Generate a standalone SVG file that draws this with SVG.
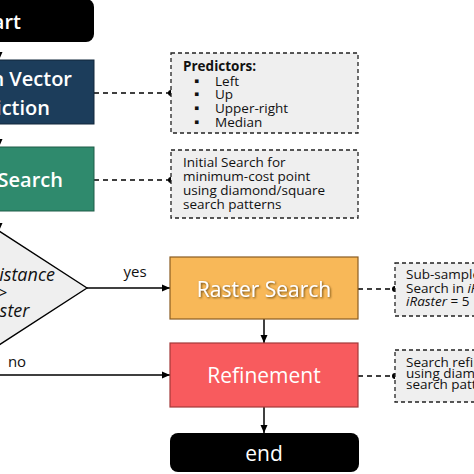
<svg xmlns="http://www.w3.org/2000/svg" width="474" height="474" viewBox="0 0 474 474">
<defs>
<marker id="arr" markerWidth="8" markerHeight="8" refX="8" refY="4" orient="auto" markerUnits="userSpaceOnUse">
<path d="M0,0.5 L8,4 L0,7.5 Z" fill="#000"/>
</marker>
<filter id="sh" x="-10%" y="-30%" width="120%" height="160%">
<feDropShadow dx="1" dy="1" stdDeviation="0.8" flood-color="#5a3a10" flood-opacity="0.9"/>
</filter>
</defs>
<style>
.lbl{font-family:"Open Sans",Lato,"Liberation Sans",sans-serif;fill:#fff;font-size:20px;font-weight:600}
.big{font-family:"Open Sans",Lato,"Liberation Sans",sans-serif;fill:#fff;font-size:21px;text-anchor:middle}
.note{font-family:"Open Sans",Lato,"Liberation Sans",sans-serif;fill:#111;font-size:13.5px}
.dec{font-family:"Open Sans",Lato,"Liberation Sans",sans-serif;fill:#111;font-size:18px;font-style:italic;text-anchor:middle}
.edge{font-family:"Open Sans",Lato,"Liberation Sans",sans-serif;fill:#111;font-size:15px;text-anchor:middle}
.call{fill:#efefef;stroke:#222;stroke-width:1.3;stroke-dasharray:4 3}
.flow{fill:none;stroke:#000;stroke-width:1.5;marker-end:url(#arr)}
.dash{fill:none;stroke:#000;stroke-width:1.5;stroke-dasharray:5 4}
</style>

<g id="connectors">
<path class="flow" d="M-1,42 V60"/>
<path class="flow" d="M-1,124 V147"/>
<path class="flow" d="M-1,211 V231"/>
<path class="flow" d="M87,288 H170"/>
<path class="flow" d="M-1,345 V375 H170"/>
<path class="flow" d="M264,319 V343"/>
<path class="flow" d="M264,407 V433"/>
<path class="dash" d="M94,93 H171"/>
<path class="dash" d="M94,180 H171"/>
<path class="dash" d="M358,289 H395"/>
<path class="dash" d="M358,376 H395"/>
<circle cx="171" cy="93" r="3" fill="#000"/>
<circle cx="171" cy="180" r="3" fill="#000"/>
<circle cx="395" cy="289" r="3" fill="#000"/>
<circle cx="395" cy="376" r="3" fill="#000"/>
<text class="edge" x="135" y="277">yes</text>
<text class="edge" x="17" y="367">no</text>
</g>

<g id="start">
<rect x="-100" y="-1" width="194" height="43" rx="8" fill="#000"/>
<text class="lbl" x="21" y="29" text-anchor="end" font-weight="normal">Start</text>
</g>

<g id="mv-prediction">
<rect x="-100" y="60" width="194" height="64" fill="#1c3d5b" stroke="#10263a" stroke-width="1"/>
<text class="lbl" x="72" y="86" text-anchor="end">Motion Vector</text>
<text class="lbl" x="50" y="115" text-anchor="end">Prediction</text>
</g>

<g id="initial-search">
<rect x="-100" y="147" width="194" height="64" fill="#2f8a6d" stroke="#1e5c48" stroke-width="1"/>
<text class="lbl" x="63" y="187" text-anchor="end">Initial Search</text>
</g>

<g id="decision">
<polygon points="-1,231 87,288 -1,345 -89,288" fill="#efefef" stroke="#000" stroke-width="1.3"/>
<text class="dec" x="2" y="281">Best Distance</text>
<text class="dec" x="2" y="299">&gt;</text>
<text class="dec" x="2" y="317">iRaster</text>
</g>

<g id="raster-search">
<rect x="170" y="257" width="188" height="62" fill="#f8b858" stroke="#8a5c22" stroke-width="1.2"/>
<text class="big" x="264" y="297" filter="url(#sh)">Raster Search</text>
</g>

<g id="refinement">
<rect x="170" y="343" width="188" height="64" fill="#f85b5e" stroke="#a33a3a" stroke-width="1.2"/>
<text class="big" x="264" y="383">Refinement</text>
</g>

<g id="end">
<rect x="170" y="433" width="189" height="39" rx="8" fill="#000"/>
<text class="big" x="264" y="461">end</text>
</g>

<g id="note-predictors">
<rect class="call" x="171" y="53" width="187" height="80"/>
<text class="note" x="183" y="71" font-weight="bold">Predictors:</text>
<text class="note" x="194" y="85.5">▪</text><text class="note" x="215" y="85.5">Left</text>
<text class="note" x="194" y="99.3">▪</text><text class="note" x="215" y="99.3">Up</text>
<text class="note" x="194" y="113.1">▪</text><text class="note" x="215" y="113.1">Upper-right</text>
<text class="note" x="194" y="127">▪</text><text class="note" x="215" y="127">Median</text>
</g>

<g id="note-initial">
<rect class="call" x="171" y="150" width="187" height="68"/>
<text class="note" x="183" y="167">Initial Search for</text>
<text class="note" x="183" y="181">minimum-cost point</text>
<text class="note" x="183" y="195">using diamond/square</text>
<text class="note" x="183" y="208.5">search patterns</text>
</g>

<g id="note-raster">
<rect class="call" x="395" y="263" width="140" height="53"/>
<text class="note" x="406" y="279" font-size="14.5">Sub-sampled</text>
<text class="note" x="406" y="293" font-size="14.5">Search in <tspan font-style="italic">iRaster</tspan></text>
<text class="note" x="406" y="306" font-size="14.5"><tspan font-style="italic">iRaster</tspan> = 5</text>
</g>

<g id="note-refine">
<rect class="call" x="395" y="350" width="140" height="52"/>
<text class="note" x="406" y="367" font-size="13">Search refinement</text>
<text class="note" x="406" y="378" font-size="13">using diamond</text>
<text class="note" x="406" y="389" font-size="13">search patterns</text>
</g>
</svg>
